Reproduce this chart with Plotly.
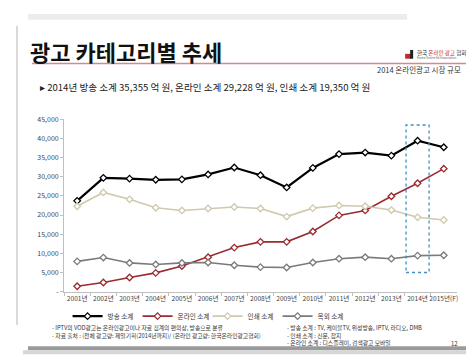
import plotly.graph_objects as go

W, H = 474, 355

years = ["2001년", "2002년", "2003년", "2004년", "2005년", "2006년", "2007년", "2008년",
         "2009년", "2010년", "2011년", "2012년", "2013년", "2014년", "2015년(F)"]

broadcast = [23700, 29700, 29500, 29200, 29300, 30600, 32400, 30400,
             27200, 32300, 35900, 36300, 35500, 39400, 37700]
online = [1400, 2400, 3700, 4900, 6700, 9000, 11500, 13000,
          13000, 15700, 19900, 21200, 24900, 28300, 32100]
printed = [22300, 25900, 24100, 21900, 21200, 21700, 22100, 21700,
           19600, 21800, 22500, 22300, 21300, 19400, 18700]
outdoor = [7900, 8900, 7500, 7100, 7500, 7600, 6900, 6400,
           6300, 7600, 8600, 9000, 8600, 9400, 9500]

series_names = ["방송 소계", "온라인 소계", "인쇄 소계", "옥외 소계"]
series_vals = [broadcast, online, printed, outdoor]
colors = ["#000000", "#9a2b30", "#cfc9ae", "#7a7a7a"]
widths = [2.2, 1.6, 1.6, 1.6]

ytick_vals = [0, 5000, 10000, 15000, 20000, 25000, 30000, 35000, 40000, 45000]
ytick_text = ["-", "5,000", "10,000", "15,000", "20,000", "25,000", "30,000",
              "35,000", "40,000", "45,000"]

notes_left = ["- IPTV의 VOD광고는 온라인광고이나 자료 집계의 편의상, 방송으로 분류",
              "- 자료 출처 : (전체 광고량: 제일기획(2014년까지)/ (온라인 광고량: 한국온라인광고협회)"]
notes_right = ["- 방송 소계 : TV, 케이블TV, 위성방송, IPTV, 라디오, DMB",
               "- 인쇄 소계 : 신문, 잡지",
               "- 온라인 소계 : 디스플레이, 검색광고 모바일"]

FONT = "Noto Sans CJK KR"


def px(x):
    return x / W


def py(y):
    return (H - y) / H


fig = go.Figure()
for name, vals, c, w in zip(series_names, series_vals, colors, widths):
    fig.add_trace(go.Scatter(
        x=years, y=vals, name=name, mode="lines+markers",
        line=dict(color=c, width=w),
        marker=dict(symbol="diamond", size=5, color="white",
                    line=dict(color=c, width=1.3)),
    ))

# highlight box around 2014
fig.add_shape(type="rect", xref="x", yref="y", x0=12.56, x1=13.44, y0=5000, y1=43500,
              line=dict(color="#3d8fc4", width=1.3, dash="dot"), fillcolor="rgba(0,0,0,0)")

shapes = [
    # slide shadows
    dict(type="rect", xref="paper", yref="paper", x0=px(462), x1=px(466), y0=py(343), y1=py(28),
         fillcolor="#8a8a8a", line=dict(width=0), layer="below"),
    dict(type="rect", xref="paper", yref="paper", x0=px(466), x1=px(470), y0=py(343), y1=py(28),
         fillcolor="#4f4f4f", line=dict(width=0), layer="below"),
    dict(type="rect", xref="paper", yref="paper", x0=px(470), x1=px(474), y0=py(343), y1=py(28),
         fillcolor="#c8c8c8", line=dict(width=0), layer="below"),
    dict(type="rect", xref="paper", yref="paper", x0=px(20), x1=px(466), y0=py(346), y1=py(342),
         fillcolor="#9a9a9a", line=dict(width=0), layer="below"),
    dict(type="rect", xref="paper", yref="paper", x0=px(15), x1=px(468), y0=py(350), y1=py(346),
         fillcolor="#d6d6d6", line=dict(width=0), layer="below"),
    dict(type="rect", xref="paper", yref="paper", x0=px(8), x1=px(10), y0=py(320), y1=py(12),
         fillcolor="#d9d9d9", line=dict(width=0), layer="below"),
    dict(type="rect", xref="paper", yref="paper", x0=px(20), x1=px(400), y0=py(6), y1=py(0),
         fillcolor="#ececec", line=dict(width=0), layer="below"),
    # title underline
    dict(type="line", xref="paper", yref="paper", x0=px(24), x1=px(460), y0=py(51), y1=py(51),
         line=dict(color="#d9888a", width=1.5)),
    # logo mark
    dict(type="rect", xref="paper", yref="paper", x0=px(398), x1=px(404), y0=py(46), y1=py(41),
         fillcolor="#c0282d", line=dict(width=0)),
    dict(type="rect", xref="paper", yref="paper", x0=px(403), x1=px(406), y0=py(46), y1=py(37),
         fillcolor="#222222", line=dict(width=0)),
]
for s in shapes:
    fig.add_shape(**s)

ann = [
    dict(x=px(20), y=py(38), text="<b>광고 카테고리별 추세</b>", size=22, color="#111111", xanchor="left"),
    dict(x=px(408), y=py(40), text="<span style='color:#222'>한국</span> <span style='color:#c0282d'>온라인</span> <span style='color:#c0282d'>광고</span> 협회",
         size=5.5, color="#222222", xanchor="left"),
    dict(x=px(408), y=py(45.5), text="Korea Online Ad Association", size=3, color="#666666", xanchor="left"),
    dict(x=px(456), y=py(57.5), text="2014 온라인광고 시장 규모", size=7.5, color="#333333", xanchor="right"),
    dict(x=px(30), y=py(75), text="▸ 2014년 방송 소계 35,355 억 원, 온라인 소계 29,228 억 원, 인쇄 소계 19,350 억 원",
         size=9.6, color="#222222", xanchor="left"),
    dict(x=px(442), y=py(339), text="12", size=6, color="#333333", xanchor="left"),
]
for a in ann:
    fig.add_annotation(x=a["x"], y=a["y"], xref="paper", yref="paper", text=a["text"],
                       showarrow=False, xanchor=a["xanchor"], yanchor="middle",
                       font=dict(family=FONT, size=a["size"], color=a["color"]))

fig.add_annotation(x=px(42), y=py(316), xref="paper", yref="paper", text="<br>".join(notes_left),
                   showarrow=False, xanchor="left", yanchor="top", align="left",
                   font=dict(family=FONT, size=5.8, color="#333333"))
fig.add_annotation(x=px(278), y=py(316), xref="paper", yref="paper", text="<br>".join(notes_right),
                   showarrow=False, xanchor="left", yanchor="top", align="left",
                   font=dict(family=FONT, size=5.8, color="#333333"))

fig.update_layout(
    width=W, height=H, margin=dict(l=0, r=0, t=0, b=0),
    paper_bgcolor="white", plot_bgcolor="white",
    font=dict(family=FONT, size=7, color="#444444"),
    showlegend=True,
    legend=dict(orientation="h", x=px(200), y=py(296), xanchor="center", yanchor="top",
                font=dict(family=FONT, size=6.6, color="#333333"), itemwidth=30,
                entrywidth=25, entrywidthmode="pixels",
                bgcolor="rgba(0,0,0,0)", tracegroupgap=0),
    xaxis=dict(domain=[px(56.2), px(449.8)], type="category", range=[-0.5, 14.5],
               showline=True, linecolor="#bfbfbf", linewidth=1, ticks="outside",
               tickson="boundaries", ticklen=3, tickcolor="#bfbfbf", showgrid=False,
               tickfont=dict(family=FONT, size=6.6, color="#444444"), tickangle=0),
    yaxis=dict(domain=[py(285.7), py(108.3)], range=[0, 45000], tickvals=ytick_vals,
               ticktext=ytick_text, showline=True, linecolor="#bfbfbf", linewidth=1,
               ticks="outside", ticklen=3, tickcolor="#bfbfbf", showgrid=False, zeroline=False,
               tickfont=dict(family=FONT, size=7, color="#444444")),
)

fig.write_html("out.html")
